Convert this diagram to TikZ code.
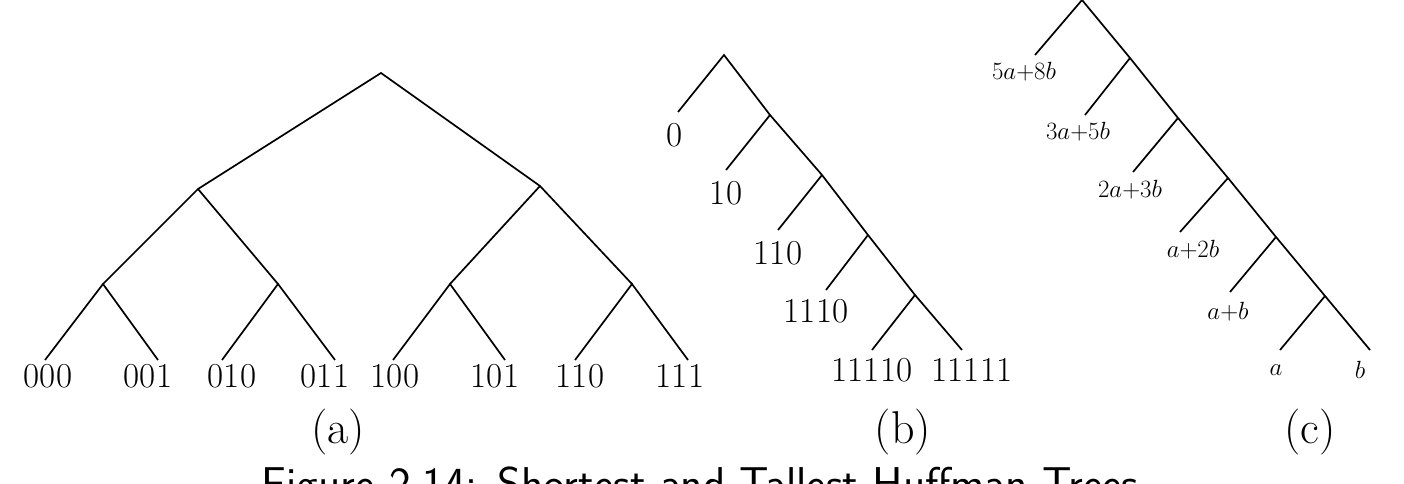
\documentclass[tikz,border=0pt]{standalone}
\begin{document}
\begin{tikzpicture}[x=1pt,y=-1pt,line width=1.7pt,
  lab/.style={font=\fontsize{35}{40}\selectfont,inner sep=0pt},
  mlab/.style={font=\fontsize{46}{50}\selectfont,inner sep=0pt},
  subcap/.style={font=\fontsize{46}{50}\selectfont,inner sep=0pt}]
\useasboundingbox (0,0) rectangle (1404,484);
% (a)
\coordinate (r) at (381,73);
\coordinate (l) at (198,189); \coordinate (rr) at (540,186);
\coordinate (ll) at (103,284); \coordinate (lr) at (278,284);
\coordinate (rl) at (450,284); \coordinate (rrr) at (632,284);
\coordinate (a1) at (45,360); \coordinate (a2) at (158,360);
\coordinate (a3) at (222,360); \coordinate (a4) at (335,360);
\coordinate (a5) at (393,360); \coordinate (a6) at (505,360);
\coordinate (a7) at (575,360); \coordinate (a8) at (688,360);
\draw (l)--(r)--(rr);
\draw (ll)--(l)--(lr); \draw (rl)--(rr)--(rrr);
\draw (a1)--(ll)--(a2); \draw (a3)--(lr)--(a4);
\draw (a5)--(rl)--(a6); \draw (a7)--(rrr)--(a8);
\node[lab] (t1) at (48,376) {000};
\node[lab] (t2) at (148,376) {001};
\node[lab] (t3) at (232,376) {010};
\node[lab] (t4) at (325,376) {011};
\node[lab] (t5) at (395,376) {100};
\node[lab] (t6) at (495,376) {101};
\node[lab] (t7) at (580,376) {110};
\node[lab] (t8) at (680,376) {111};
\node[subcap] (ca) at (338,432) {(a)};
% (b)
\coordinate (b0) at (724,55); \coordinate (b1) at (770,115);
\coordinate (b2) at (822,175); \coordinate (b3) at (868,235);
\coordinate (b4) at (915,295);
\coordinate (bl0) at (678,112); \coordinate (bl1) at (726,170);
\coordinate (bl2) at (778,230); \coordinate (bl3) at (826,290);
\coordinate (bl4) at (872,350); \coordinate (br4) at (962,350);
\draw (bl0)--(b0)--(b1)--(b2)--(b3)--(b4)--(br4);
\draw (b1)--(bl1); \draw (b2)--(bl2); \draw (b3)--(bl3); \draw (b4)--(bl4);
\node[lab] (u0) at (675,135) {0};
\node[lab] (u1) at (726,193) {10};
\node[lab] (u2) at (778,253) {110};
\node[lab] (u3) at (816,311) {1110};
\node[lab] (u4) at (872,370) {11110};
\node[lab] (u5) at (972,370) {11111};
\node[subcap] (cb) at (903,432) {(b)};
% (c)
\coordinate (c0) at (1082,0); \coordinate (c1) at (1130,58);
\coordinate (c2) at (1178,118); \coordinate (c3) at (1228,178);
\coordinate (c4) at (1276,237); \coordinate (c5) at (1325,296);
\coordinate (cl0) at (1035,55); \coordinate (cl1) at (1085,115);
\coordinate (cl2) at (1133,172); \coordinate (cl3) at (1180,232);
\coordinate (cl4) at (1230,292); \coordinate (cl5) at (1280,350);
\coordinate (cr5) at (1370,350);
\draw (cl0)--(c0)--(c1)--(c2)--(c3)--(c4)--(c5)--(cr5);
\draw (c1)--(cl1); \draw (c2)--(cl2); \draw (c3)--(cl3); \draw (c4)--(cl4); \draw (c5)--(cl5);
\node[mlab] (v0) at (1024,72) {$5a{+}8b$};
\node[mlab] (v1) at (1078,132) {$3a{+}5b$};
\node[mlab] (v2) at (1130,190) {$2a{+}3b$};
\node[mlab] (v3) at (1193,250) {$a{+}2b$};
\node[mlab] (v4) at (1228,312) {$a{+}b$};
\node[mlab] (v5) at (1276,370) {$a$};
\node[mlab] (v6) at (1360,370) {$b$};
\node[subcap] (cc) at (1310,432) {(c)};
\node[font=\sffamily\fontsize{46}{50}\selectfont,inner sep=0pt,anchor=north] (fig) at (700,466) {Figure 2.14: Shortest and Tallest Huffman Trees};
\end{tikzpicture}
\end{document}
